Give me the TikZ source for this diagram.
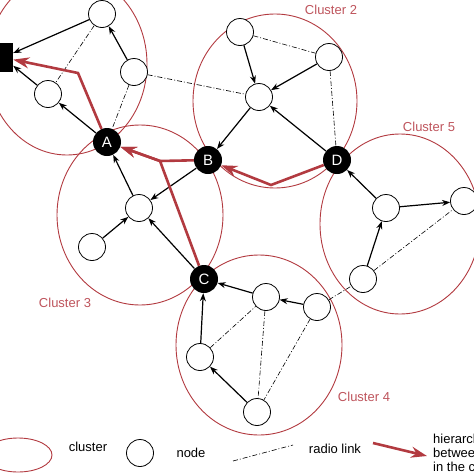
\documentclass[tikz,border=0pt]{standalone}
\usepackage{fontspec}
\setmainfont{Liberation Sans}
\usepackage{xcolor}
\usetikzlibrary{arrows.meta,positioning,calc}

\definecolor{clusterred}{RGB}{178,58,64}
\definecolor{labelred}{RGB}{190,84,92}

\tikzset{
  wnode/.style={circle,draw,line width=0.8pt,fill=white,minimum size=27pt,inner sep=0pt},
  hnode/.style={circle,fill=black,minimum size=28pt,inner sep=0pt,text=white,font=\fontsize{15}{15}\selectfont},
  sinkbox/.style={rectangle,fill=black,minimum width=20pt,minimum height=29pt,inner sep=0pt},
  cluster/.style={draw=clusterred,line width=0.9pt},
  flow/.style={-{Stealth[length=8pt,width=6pt]},line width=1.2pt},
  hier/.style={-{Stealth[length=16pt,width=11pt]},draw=clusterred,line width=2.6pt},
  radio/.style={line width=0.6pt,dash pattern=on 5pt off 2pt on 1pt off 2pt},
  clabel/.style={text=labelred,font=\fontsize{13}{13}\selectfont},
  ltext/.style={font=\fontsize{13}{14}\selectfont}
}

\begin{document}
\begin{tikzpicture}[x=1pt,y=-1pt]
	\useasboundingbox (0,0) rectangle (474,474);

	%Clusters
	\draw [cluster] (67,64) ellipse [x radius=80,y radius=91];
	\draw [cluster] (275,101) ellipse [x radius=82,y radius=87];
	\draw [cluster] (140,215) ellipse [x radius=83,y radius=90];
	\draw [cluster] (259,345) ellipse [x radius=83,y radius=90];
	\draw [cluster] (400,224) ellipse [x radius=80,y radius=90];

	% Cluster labels
	\node [clabel] (lab2) at (331,10) {Cluster 2};
	\node [clabel] (lab5) at (429,127) {Cluster 5};
	\node [clabel] (lab3) at (65,303) {Cluster 3};
	\node [clabel] (lab4) at (364,397) {Cluster 4};

	%Sink
	\node [sinkbox] (sink) at (3,57.5) {};

	%Cluster 1
	\node [wnode] (n1a) at (102,14) {};
	\node [wnode] (n1b) at (134,72) {};
	\node [wnode] (n1c) at (48,94) {};
	\node [hnode] (A) at (107,142) {A};
	%Cluster 2
	\node [wnode] (n2a) at (240,32) {};
	\node [wnode] (n2b) at (329,57) {};
	\node [wnode] (n2c) at (259,97) {};
	\node [hnode] (B) at (208,160) {B};
	\node [hnode] (D) at (337,160) {D};
	%Cluster 3
	\node [wnode] (n3a) at (139,208) {};
	\node [wnode] (n3b) at (92,247) {};
	\node [hnode] (C) at (204,279) {C};
	%Cluster 4
	\node [wnode] (n4a) at (266,297) {};
	\node [wnode] (n4b) at (317,307) {};
	\node [wnode] (n4c) at (200,357) {};
	\node [wnode] (n4d) at (257,412) {};
	%Cluster 5
	\node [wnode] (n5a) at (386,208) {};
	\node [wnode] (n5b) at (464,201) {};
	\node [wnode] (n5c) at (363,279) {};

	%Radio links
	\draw [radio] (n1a) -- (n1c);
	\draw [radio] (n1b) -- (A);
	\draw [radio] (n1b) -- (n2c);
	\draw [radio] (n2a) -- (n2b);
	\draw [radio] (n2b) -- (D);
	\draw [radio] (n4c) -- (n4a);
	\draw [radio] (n4a) -- (n4d);
	\draw [radio] (n4b) -- (n4d);
	\draw [radio] (n4b) -- (n5c);
	\draw [radio] (n5c) -- (n5b);

	%Links to cluster heads
	\draw [flow] (n1a) -- (sink);
	\draw [flow] (n1c) -- (sink);
	\draw [flow] (n1b) -- (n1a);
	\draw [flow] (A) -- (n1c);
	\draw [flow] (n2a) -- (n2c);
	\draw [flow] (n2b) -- (n2c);
	\draw [flow] (D) -- (n2c);
	\draw [flow] (n2c) -- (B);
	\draw [flow] (B) -- (n3a);
	\draw [flow] (n3a) -- (A);
	\draw [flow] (n3b) -- (n3a);
	\draw [flow] (C) -- (n3a);
	\draw [flow] (n4a) -- (C);
	\draw [flow] (n4c) -- (C);
	\draw [flow] (n4b) -- (n4a);
	\draw [flow] (n4d) -- (n4c);
	\draw [flow] (n5a) -- (D);
	\draw [flow] (n5a) -- (n5b);
	\draw [flow] (n5c) -- (n5a);

	%Hierarchy between heads
	\coordinate (kD) at (271,185);
	\coordinate (kA) at (160,161);
	\coordinate (kS) at (78,73);
	\draw [hier] (D) -- (kD) -- (B);
	\draw [hier] (B) -- (kA) -- (A);
	\draw [hier] (C) -- (kA) -- (A);
	\draw [hier] (A) -- (kS) -- (sink);

	%Legend
	\draw [cluster] (18,455) ellipse [x radius=34,y radius=17];
	\node [ltext] (tcluster) at (88,447) {cluster};
	\node [wnode] (lnode) at (140,453) {};
	\node [ltext] (tnode) at (191,453) {node};
	\coordinate (r1) at (233,461);
	\coordinate (r2) at (293,445);
	\draw [radio] (r1) -- (r2);
	\node [ltext] (tradio) at (335,449) {radio link};
	\coordinate (h1) at (373,443);
	\coordinate (h2) at (427,456);
	\draw [hier] (h1) -- (h2);
	\node [ltext,anchor=north west,align=left,inner sep=0pt] (thier) at (433,434) {hierarchy\\between\\in the cluster};
\end{tikzpicture}
\end{document}
